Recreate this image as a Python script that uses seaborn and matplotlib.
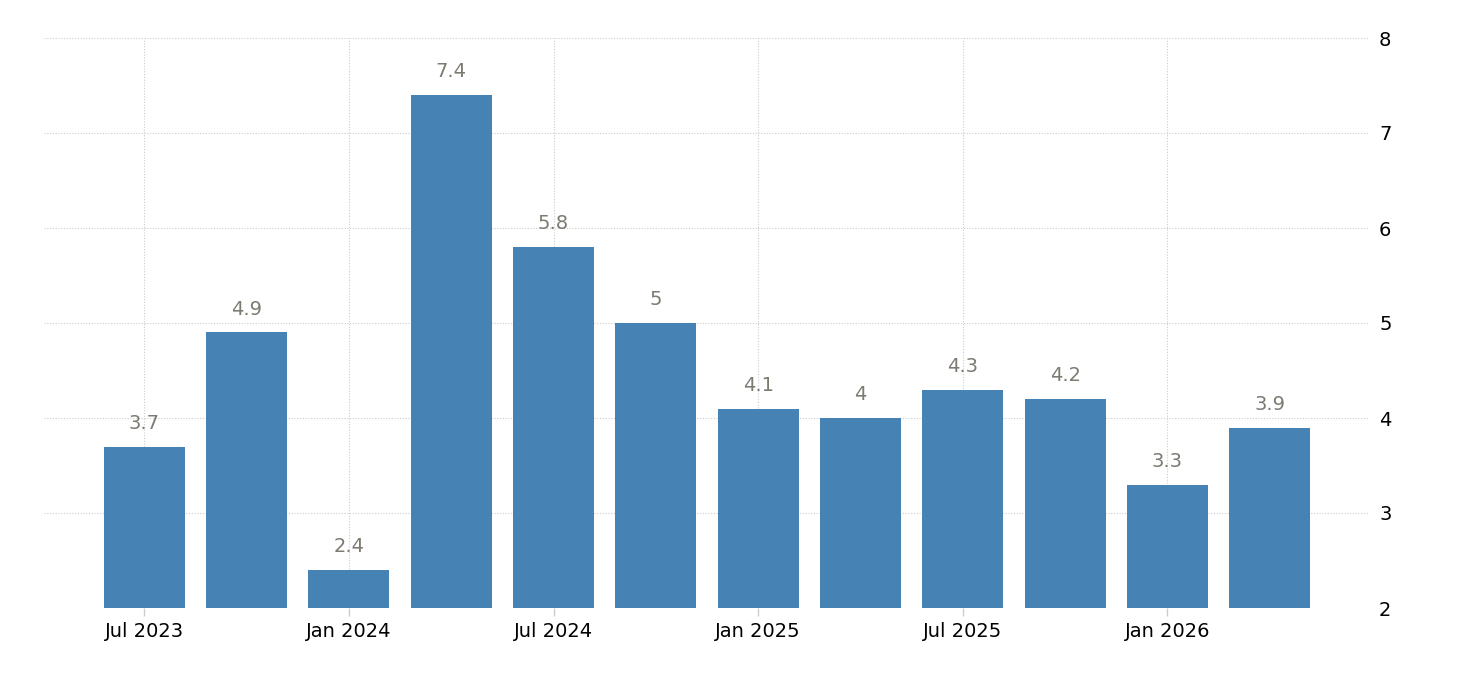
import matplotlib
matplotlib.use("Agg")
import matplotlib.pyplot as plt
import seaborn as sns
import pandas as pd

quarters = ["Q3 2023", "Q4 2023", "Q1 2024", "Q2 2024", "Q3 2024", "Q4 2024",
            "Q1 2025", "Q2 2025", "Q3 2025", "Q4 2025", "Q1 2026", "Q2 2026"]
values = [3.7, 4.9, 2.4, 7.4, 5.8, 5.0, 4.1, 4.0, 4.3, 4.2, 3.3, 3.9]
value_labels = ["3.7", "4.9", "2.4", "7.4", "5.8", "5", "4.1", "4", "4.3", "4.2", "3.3", "3.9"]
tick_labels = ["Jul 2023", "Jan 2024", "Jul 2024", "Jan 2025", "Jul 2025", "Jan 2026"]
y_ticks = [2, 3, 4, 5, 6, 7, 8]

sns.set_theme(style="white")
plt.rcParams["font.family"] = ["DejaVu Sans"]

df = pd.DataFrame({"quarter": quarters, "value": values})

fig = plt.figure(figsize=(14.6, 6.8), dpi=100)
ax = fig.add_axes([44 / 1460, 1 - 608 / 680, (1368 - 44) / 1460, (608 - 38) / 680])

sns.barplot(data=df, x="quarter", y="value", color="#4682B4", saturation=1,
            width=0.79, ax=ax, zorder=2, linewidth=0, edgecolor="none")

for i, (v, lab) in enumerate(zip(values, value_labels)):
    ax.annotate(lab, (i, v), xytext=(0, 10), textcoords="offset points",
                ha="center", va="bottom", fontsize=14, color="#7d7a72")

ax.set_ylim(2, 8)
ax.set_xlim(-0.98, 11.96)
ax.set_yticks(y_ticks)
ax.set_yticklabels([str(t) for t in y_ticks])
ax.yaxis.tick_right()
ax.tick_params(axis="y", length=0, pad=8, labelsize=14, labelcolor="black")

ax.set_xticks(range(0, 12, 2))
ax.set_xticklabels(tick_labels)
ax.tick_params(axis="x", length=6, width=1, color="#cccccc", pad=4, labelsize=14,
               labelcolor="black", direction="out", bottom=True)

ax.set_xlabel("")
ax.set_ylabel("")
for s in ax.spines.values():
    s.set_visible(False)

ax.grid(True, axis="both", color="#cccccc", linestyle=(0, (1, 1.5)), linewidth=0.8, zorder=0)
ax.set_axisbelow(True)

fig.savefig("out.png", dpi=100)
